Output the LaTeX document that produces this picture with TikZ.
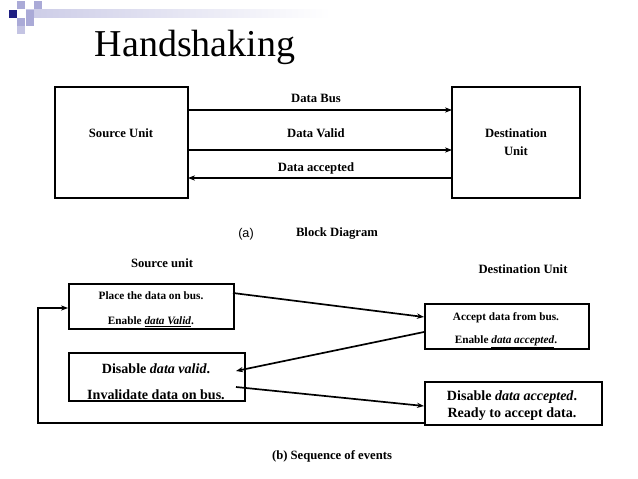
\documentclass[tikz,border=0pt]{standalone}
\usepackage{fontspec}
\setmainfont{Liberation Serif}
\newfontfamily\sans{Liberation Sans}
\usetikzlibrary{arrows.meta}
\definecolor{navy}{RGB}{30,30,130}
\definecolor{lav}{RGB}{170,170,215}
\tikzset{
  blk/.style={draw,line width=1.4pt,anchor=north west,inner sep=0pt},
  lbl/.style={font=\bfseries\fontsize{9}{11}\selectfont},
  arr/.style={-{Stealth[length=5pt]},line width=1.2pt}
}
\begin{document}
\begin{tikzpicture}[x=0.025cm,y=-0.025cm]
\useasboundingbox (0,0) rectangle (638,479);
% corner marks
\shade [left color=lav!60,right color=white] (26,10) rectangle (330,18);
\fill [navy] (9,10) rectangle +(8,8);
\foreach \x/\y in {17/1,26/10,26/18,17/18,34/1}
   \fill [lav] (\x,\y) rectangle +(8,8);
\fill [lav!70] (17,26) rectangle +(8,8);
\node [anchor=west,font=\fontsize{27}{30}\selectfont] (title) at (90,47) {Handshaking};
% (a) block diagram
\draw [line width=1.4pt] (55,87) rectangle (188,198);
\node [lbl] (src) at (121,133) {Source Unit};
\draw [line width=1.4pt] (452,87) rectangle (580,198);
\node [lbl,align=center] (dst) at (516,142) {Destination\\[2pt]Unit};
\coordinate (s1) at (188,110); \coordinate (d1) at (452,110);
\coordinate (s2) at (188,150); \coordinate (d2) at (452,150);
\coordinate (s3) at (188,178); \coordinate (d3) at (452,178);
\draw [arr,line width=0.8pt] (s1) -- (d1);
\draw [arr,line width=0.8pt] (s2) -- (d2);
\draw [arr,line width=0.8pt] (d3) -- (s3);
\node [lbl] (bus) at (316,98) {Data Bus};
\node [lbl] (valid) at (316,133) {Data Valid};
\node [lbl] (acc) at (316,168) {Data accepted};
\node [font=\sans\fontsize{9}{11}\selectfont] (a) at (246,234) {(a)};
\node [lbl] (bd) at (337,234) {Block Diagram};
% (b) sequence of events
\node [lbl] (su) at (162,263) {Source unit};
\node [lbl] (du) at (523,269) {Destination Unit};
\node [blk,minimum width=165*0.025cm,minimum height=45*0.025cm] (p) at (68,283) {};
\node [lbl,font=\bfseries\fontsize{8}{10}\selectfont] at (151,296) {Place the data on bus.};
\node [lbl,font=\bfseries\fontsize{8}{10}\selectfont] at (151,322) {Enable \underline{\textit{data Valid}}.};
\node [blk,minimum width=164*0.025cm,minimum height=45*0.025cm] (q) at (424,303) {};
\node [lbl,font=\bfseries\fontsize{8}{10}\selectfont] at (506,318) {Accept data from bus.};
\node [lbl,font=\bfseries\fontsize{8}{10}\selectfont] at (506,342) {Enable \underline{\textit{data accepted}}.};
\node [blk,minimum width=176*0.025cm,minimum height=48*0.025cm] (r) at (68,352) {};
\node [lbl,font=\bfseries\fontsize{10}{12}\selectfont] at (156,369) {Disable \textit{data valid}.};
\node [lbl,font=\bfseries\fontsize{10}{12}\selectfont] at (156,395) {Invalidate data on bus.};
\node [blk,minimum width=177*0.025cm,minimum height=43*0.025cm] (t) at (424,381) {};
\node [lbl,font=\bfseries\fontsize{10}{12}\selectfont,align=center] at (512,406) {Disable \textit{data accepted}.\\Ready to accept data.};
\coordinate (loop0) at (424,423);
\draw [arr] (233,293) -- (424,317);
\draw [arr] (424,332) -- (236,371);
\draw [arr] (236,387) -- (424,406);
\draw [arr] (loop0) -- (38,423) -- (38,308) -- (68,308);
\node [lbl] (cap) at (332,456) {(b) Sequence of events};
\end{tikzpicture}
\end{document}
